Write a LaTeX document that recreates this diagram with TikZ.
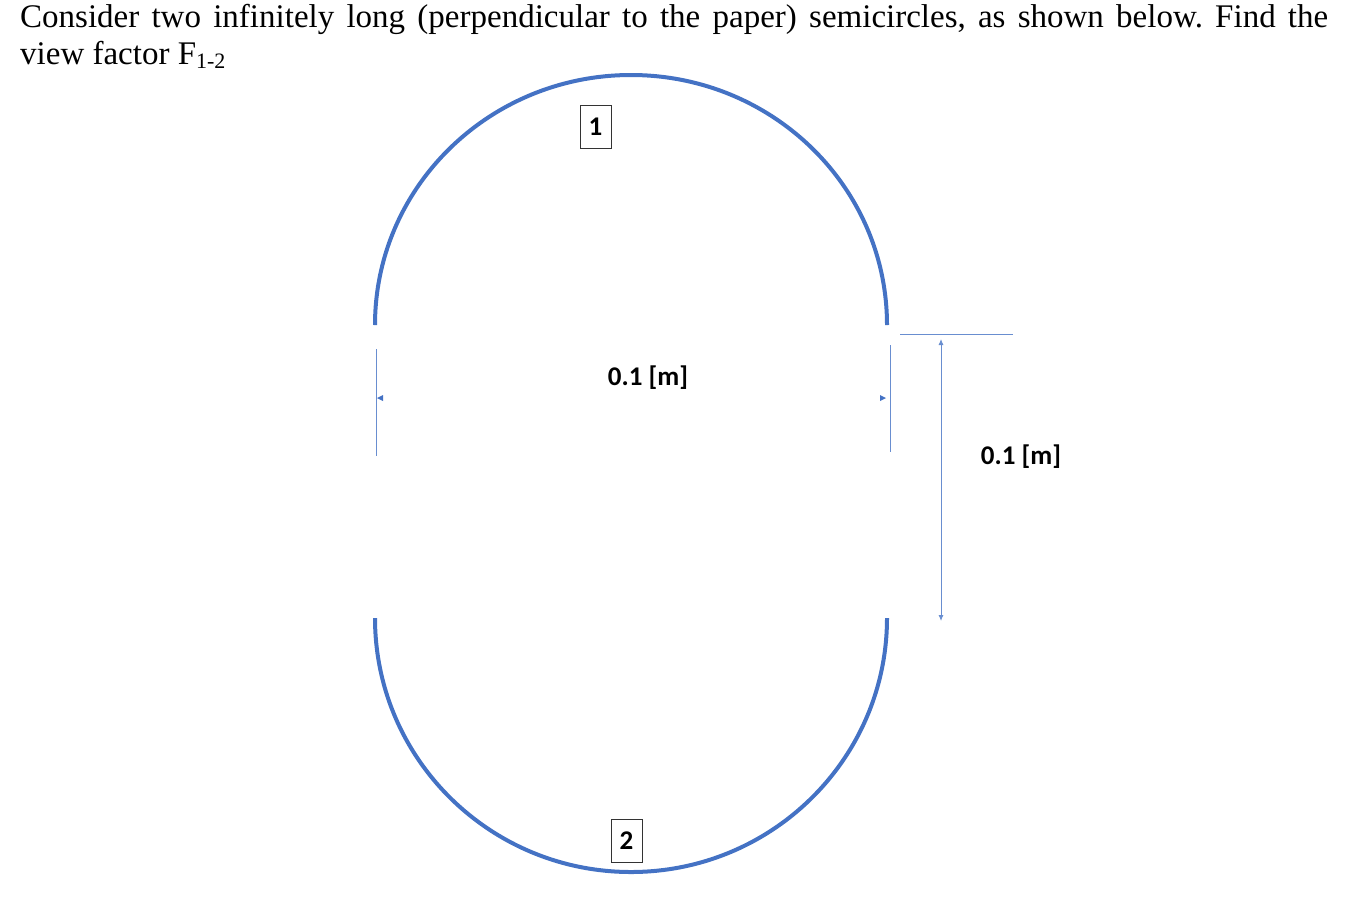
\documentclass[tikz,border=0pt]{standalone}
\usepackage{fontspec}
\setmainfont{Liberation Serif}
\newfontfamily\calib{Carlito}
\usetikzlibrary{arrows.meta}
\definecolor{arcblue}{HTML}{4472C4}
\tikzset{
  arcline/.style={draw=arcblue, line width=4pt},
  dimline/.style={draw=arcblue!80, line width=0.9pt},
  dimlabel/.style={font=\calib\bfseries\fontsize{27}{30}\selectfont, inner sep=0pt},
  numbox/.style={draw=black!80, line width=0.9pt, minimum width=31pt, minimum height=43pt, inner sep=0pt, font=\calib\bfseries\fontsize{27}{30}\selectfont},
  tip/.style={fill=arcblue, draw=none}
}
\begin{document}
\begin{tikzpicture}[x=1pt,y=1pt]
\useasboundingbox (0,0) rectangle (1354,-906);
% title
\node[anchor=north west, inner sep=0pt, text width=1308pt, align=justify,
      font=\fontsize{33}{37.5}\selectfont\frenchspacing] (title) at (20,-4)
 {Consider two infinitely long (perpendicular to the paper) semicircles, as shown below. Find the\linebreak
  view factor F\raisebox{-0.12em}{\fontsize{22}{22}\selectfont 1-2}};
% semicircles
\draw[arcline] (375,-325) arc[start angle=180, end angle=0, x radius=256, y radius=250];
\draw[arcline] (375,-618) arc[start angle=180, end angle=360, x radius=256, y radius=254];
% labels
\node[numbox] (n1) at (595.5,-126.5) {1};
\node[numbox] (n2) at (626.5,-840.5) {2};
% horizontal dimension
\coordinate (hl1) at (376,-349); \coordinate (hl2) at (376,-456);
\coordinate (hr1) at (890,-345); \coordinate (hr2) at (890,-452);
\draw[dimline] (hl1) -- (hl2);
\draw[dimline] (hr1) -- (hr2);
\fill[tip] (377,-398) -- (383,-395) -- (383,-401) -- cycle;
\fill[tip] (886,-398) -- (880,-395) -- (880,-401) -- cycle;
\node[dimlabel] (d1) at (648,-378) {0.1 [m]};
% vertical dimension
\coordinate (ve1) at (900,-334); \coordinate (ve2) at (1013,-334);
\draw[dimline] (ve1) -- (ve2);
\coordinate (va) at (941,-339); \coordinate (vb) at (941,-621);
\draw[dimline, {Latex[length=6pt,width=5pt]}-{Latex[length=6pt,width=5pt]}] (va) -- (vb);
\node[dimlabel] (d2) at (1021,-457) {0.1 [m]};
\end{tikzpicture}
\end{document}
